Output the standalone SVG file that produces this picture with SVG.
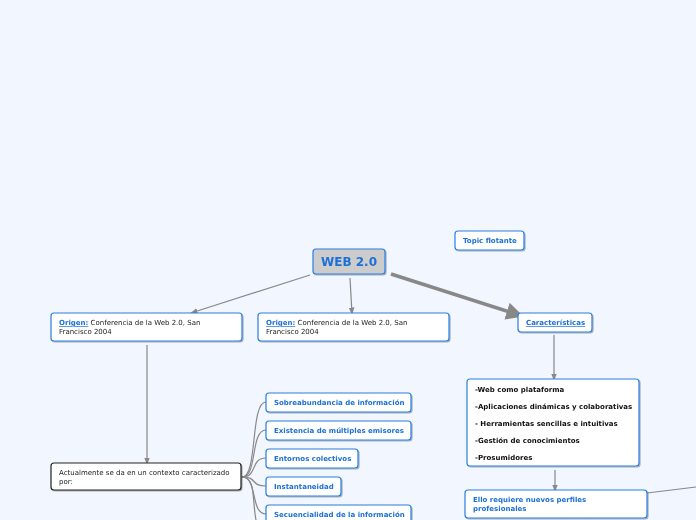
<svg xmlns="http://www.w3.org/2000/svg" width="696" height="520" viewBox="0 0 696 520">
<defs>
<style>
.n{fill:#fff;stroke:#2a7fe0;stroke-width:1.2}
.t{font-family:"DejaVu Sans",Verdana,sans-serif;font-size:7px;fill:#1a1a1a}
.b{font-weight:bold;fill:#1b6fd6}
.k{font-weight:bold;fill:#111}
.c{fill:none;stroke:#888;stroke-width:1.2}
</style>
<marker id="a" viewBox="0 0 10 10" refX="9" refY="5" markerWidth="6" markerHeight="6" orient="auto"><path d="M0,1L10,5L0,9z" fill="#888"/></marker>
<marker id="A" viewBox="0 0 10 10" refX="9" refY="5" markerWidth="5" markerHeight="5" orient="auto"><path d="M0,0L10,5L0,10z" fill="#888"/></marker>
<filter id="s"><feDropShadow dx="1" dy="1" stdDeviation="0.6" flood-opacity="0.3"/></filter>
</defs>
<rect width="696" height="520" fill="#f2f6fe"/>
<g id="connectors">
<line class="c" x1="310" y1="275" x2="191" y2="313" marker-end="url(#a)"/>
<line class="c" x1="350" y1="278" x2="352" y2="314" marker-end="url(#a)"/>
<line x1="391" y1="274" x2="522" y2="316" stroke="#888" stroke-width="3.5" marker-end="url(#A)"/>
<line class="c" x1="554" y1="335" x2="554" y2="380" marker-end="url(#a)"/>
<line class="c" x1="555" y1="470" x2="555" y2="491" marker-end="url(#a)"/>
<line class="c" x1="647" y1="493" x2="696" y2="487"/>
<line class="c" x1="147" y1="345" x2="147" y2="464" marker-end="url(#a)"/>
<path class="c" d="M242,477C258,477 250,402 266,402"/>
<path class="c" d="M242,477C258,477 250,430 266,430"/>
<path class="c" d="M242,477C258,477 250,458 266,458"/>
<path class="c" d="M242,477C258,477 250,486 266,486"/>
<path class="c" d="M242,477C258,477 250,514 266,514"/>
<path class="c" d="M242,477C256,477 252,500 256,520"/>
</g>
<g id="web20" filter="url(#s)"><rect x="313" y="249" width="72" height="25" rx="3" fill="#cccccc" stroke="#2a7fe0" stroke-width="1.2"/><text x="349" y="266" text-anchor="middle" font-family="DejaVu Sans,Verdana,sans-serif" font-size="12" font-weight="bold" fill="#1b6fd6">WEB 2.0</text></g>
<g id="topic" filter="url(#s)"><rect class="n" x="455" y="231" width="69" height="19" rx="3"/><text class="t b" x="463" y="243">Topic flotante</text></g>
<g id="origen1" filter="url(#s)"><rect class="n" x="51" y="313" width="191" height="28" rx="3"/><text class="t" x="59" y="325"><tspan class="b" text-decoration="underline">Origen:</tspan> Conferencia de la Web 2.0, San</text><text class="t" x="59" y="334">Francisco 2004</text></g>
<g id="origen2" filter="url(#s)"><rect class="n" x="258" y="313" width="191" height="28" rx="3"/><text class="t" x="266" y="325"><tspan class="b" text-decoration="underline">Origen:</tspan> Conferencia de la Web 2.0, San</text><text class="t" x="266" y="334">Francisco 2004</text></g>
<g id="caract" filter="url(#s)"><rect class="n" x="518" y="313" width="74" height="19" rx="3"/><text class="t b" x="526" y="325" text-decoration="underline">Características</text></g>
<g id="lista" filter="url(#s)"><rect class="n" x="467" y="379" width="172" height="87" rx="3"/>
<text class="t k" x="475" y="392">-Web como plataforma</text>
<text class="t k" x="475" y="409">-Aplicaciones dinámicas y colaborativas</text>
<text class="t k" x="475" y="426">- Herramientas sencillas e intuitivas</text>
<text class="t k" x="475" y="443">-Gestión de conocimientos</text>
<text class="t k" x="475" y="460">-Prosumidores</text></g>
<g id="ello" filter="url(#s)"><rect class="n" x="465" y="490" width="182" height="28" rx="3"/><text class="t b" x="473" y="502">Ello requiere nuevos perfiles</text><text class="t b" x="473" y="511">profesionales</text></g>
<g id="actual" filter="url(#s)"><rect x="51" y="463" width="190" height="27" rx="3" fill="#fff" stroke="#222" stroke-width="1.2"/><text class="t" x="59" y="475">Actualmente se da en un contexto caracterizado</text><text class="t" x="59" y="484">por:</text></g>
<g id="sobre" filter="url(#s)"><rect class="n" x="266" y="393" width="145" height="19" rx="3"/><text class="t b" x="274" y="405">Sobreabundancia de información</text></g>
<g id="exist" filter="url(#s)"><rect class="n" x="266" y="421" width="145" height="19" rx="3"/><text class="t b" x="274" y="433">Existencia de múltiples emisores</text></g>
<g id="entornos" filter="url(#s)"><rect class="n" x="266" y="449" width="92" height="19" rx="3"/><text class="t b" x="274" y="461">Entornos colectivos</text></g>
<g id="instant" filter="url(#s)"><rect class="n" x="266" y="477" width="75" height="19" rx="3"/><text class="t b" x="274" y="489">Instantaneidad</text></g>
<g id="secuen" filter="url(#s)"><rect class="n" x="266" y="505" width="145" height="19" rx="3"/><text class="t b" x="274" y="517">Secuencialidad de la información</text></g>
</svg>
